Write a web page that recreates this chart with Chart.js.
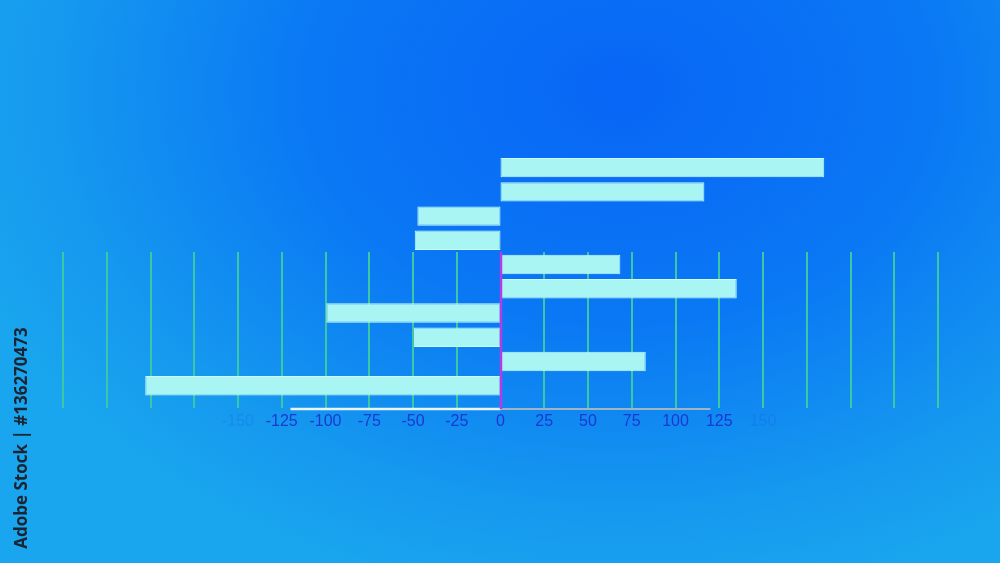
<!DOCTYPE html>
<html>
<head>
<meta charset="utf-8">
<script src="https://cdn.jsdelivr.net/npm/chart.js@4"></script>
<style>
  html, body { margin: 0; padding: 0; }
  body {
    width: 1000px; height: 563px; overflow: hidden;
    background: radial-gradient(ellipse 700px 520px at 620px 90px, #0866f6 0%, #0a78f4 45%, #1598ef 80%, #1aa6ee 100%);
  }
  #wrap { position: relative; width: 1000px; height: 563px; }
</style>
</head>
<body>
<div id="wrap"><canvas id="barChart" width="1000" height="563"></canvas></div>
<script>
// data
const categories = ["1", "2", "3", "4", "5", "6", "7", "8", "9", "10"];
const values = [185, 116.5, -47.5, -49, 68.5, 135, -99.5, -49.5, 83, -203];
const tickLabels = [-150, -125, -100, -75, -50, -25, 0, 25, 50, 75, 100, 125, 150];
const gridValues = [-250, -225, -200, -175, -150, -125, -100, -75, -50, -25, 0,
  25, 50, 75, 100, 125, 150, 175, 200, 225, 250];
const sideText = "Adobe Stock | #136270473";

const BarChart = document.getElementById("barChart");

// grid lines, zero line, axis line and side text
const decor = {
  id: "decor",
  beforeDatasetsDraw(chart) {
    const ctx = chart.ctx;
    const x = chart.scales.x;
    ctx.save();
    ctx.strokeStyle = "#3cc8a4";
    ctx.lineWidth = 2;
    gridValues.forEach((v) => {
      if (v === 0) return;
      const px = Math.round(x.getPixelForValue(v));
      ctx.beginPath();
      ctx.moveTo(px, 252);
      ctx.lineTo(px, 408);
      ctx.stroke();
    });
    ctx.restore();
  },
  afterDatasetsDraw(chart) {
    const ctx = chart.ctx;
    const x = chart.scales.x;
    const x0 = x.getPixelForValue(0);
    ctx.save();
    // axis line
    ctx.lineWidth = 2.5;
    ctx.strokeStyle = "#e6f4f2";
    ctx.beginPath();
    ctx.moveTo(x.getPixelForValue(-120), 409);
    ctx.lineTo(x0, 409);
    ctx.stroke();
    ctx.strokeStyle = "#9fb4c8";
    ctx.lineWidth = 2;
    ctx.beginPath();
    ctx.moveTo(x0, 409);
    ctx.lineTo(x.getPixelForValue(120), 409);
    ctx.stroke();
    // zero line
    ctx.strokeStyle = "#b43ce6";
    ctx.lineWidth = 2.5;
    ctx.beginPath();
    ctx.moveTo(x0 + 0.5, 252);
    ctx.lineTo(x0 + 0.5, 409);
    ctx.stroke();
    // side text
    ctx.translate(22, 438);
    ctx.rotate(-Math.PI / 2);
    ctx.fillStyle = "#1b2433";
    ctx.font = "bold 17px 'Open Sans', sans-serif";
    ctx.textAlign = "center";
    ctx.textBaseline = "middle";
    ctx.fillText(sideText, 0, 0);
    ctx.restore();
  },
};

new Chart(BarChart, {
  type: "bar",
  data: {
    labels: categories,
    datasets: [
      {
        label: "Value",
        data: values,
        backgroundColor: "#a9f5f3",
        borderColor: "#c9fbf9",
        borderWidth: 1,
        borderSkipped: false,
        barPercentage: 0.8,
        categoryPercentage: 1,
      },
    ],
  },
  options: {
    indexAxis: "y",
    responsive: false,
    animation: false,
    layout: {
      padding: { left: 63, right: 62, top: 155.5, bottom: 117 },
    },
    plugins: {
      legend: { display: false },
      tooltip: { enabled: false },
    },
    scales: {
      x: {
        type: "linear",
        min: -250,
        max: 250,
        border: { display: false },
        grid: { display: false, drawTicks: false },
        afterBuildTicks: (scale) => {
          scale.ticks = tickLabels.map((v) => ({ value: v }));
        },
        ticks: {
          autoSkip: false,
          maxRotation: 0,
          padding: 14.5,
          font: { size: 16, family: "'Liberation Sans', Arial, sans-serif" },
          color: (c) =>
            Math.abs(c.tick.value) > 125 ? "rgba(30,70,215,0.18)" : "#1b38d2",
        },
      },
      y: {
        display: false,
        offset: true,
      },
    },
  },
  plugins: [decor],
});
</script>
</body>
</html>
